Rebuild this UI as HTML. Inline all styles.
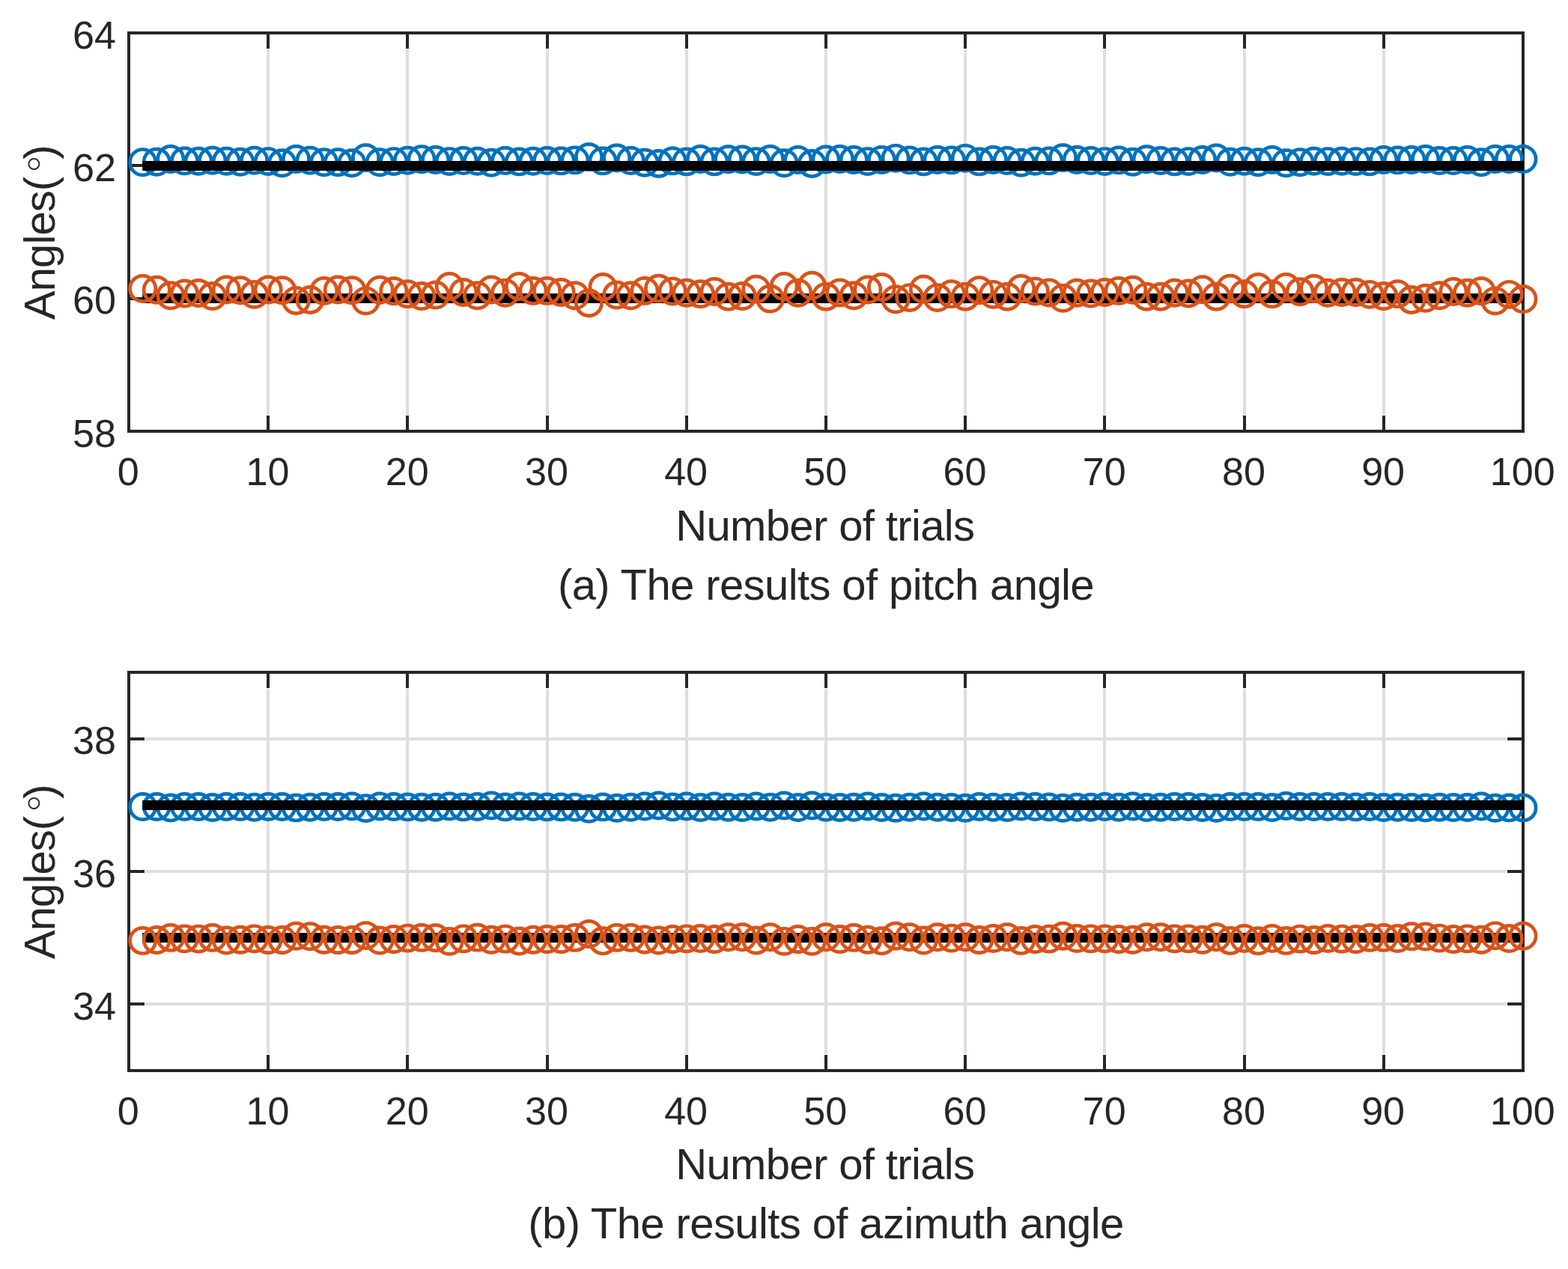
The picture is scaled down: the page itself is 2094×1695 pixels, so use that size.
<!DOCTYPE html>
<html lang="en"><head><meta charset="utf-8"><title>Angle estimation results</title>
<style>
html,body{margin:0;padding:0;background:#fff}
body{width:2094px;height:1695px;overflow:hidden}
svg{display:block}
text{font-family:"Liberation Sans",Arial,Helvetica,sans-serif;fill:#262626}
.t{font-size:52.08px}
.l{font-size:58px}
.xl{letter-spacing:-0.63px}
.cp{letter-spacing:-0.6px}
.yl{letter-spacing:-0.9px}
.dg{stroke:#fff;stroke-width:1.3px}
.g{stroke:#dedede;stroke-width:4;fill:none}
.a{stroke:#262626;stroke-width:4;fill:none;stroke-linecap:square}
.w{stroke:#fff;stroke-width:4;fill:none;stroke-linecap:square}
.k{stroke:#000;stroke-width:13;fill:none}
.b circle{stroke:#0072bd;stroke-width:4.7;fill:none}
.o circle{stroke:#d95319;stroke-width:4.7;fill:none}
</style></head>
<body>
<svg width="2094" height="1695" viewBox="0 0 2094 1695">
<rect width="2094" height="1695" fill="#fff"/>
<g>
<path class="g" d="M358 44V576M544 44V576M731 44V576M917 44V576M1103 44V576M1289 44V576M1475 44V576M1662 44V576M1848 44V576M172 399H2034M172 221H2034"/>
<path class="w" d="M358 576v-20M358 44v20M544 576v-20M544 44v20M731 576v-20M731 44v20M917 576v-20M917 44v20M1103 576v-20M1103 44v20M1289 576v-20M1289 44v20M1475 576v-20M1475 44v20M1662 576v-20M1662 44v20M1848 576v-20M1848 44v20M172 399h20M2034 399h-20M172 221h20M2034 221h-20"/>
<path class="a" d="M358 576v-19M358 44v19M544 576v-19M544 44v19M731 576v-19M731 44v19M917 576v-19M917 44v19M1103 576v-19M1103 44v19M1289 576v-19M1289 44v19M1475 576v-19M1475 44v19M1662 576v-19M1662 44v19M1848 576v-19M1848 44v19M172 399h19M2034 399h-19M172 221h19M2034 221h-19"/>
<rect class="a" x="172" y="44" width="1862" height="532"/>
<g class="b"><circle cx="190.62" cy="216.73" r="17.1"/><circle cx="209.24" cy="216.3" r="17.1"/><circle cx="227.86" cy="212.48" r="17.1"/><circle cx="246.48" cy="214.89" r="17.1"/><circle cx="265.1" cy="215.31" r="17.1"/><circle cx="283.72" cy="214.18" r="17.1"/><circle cx="302.34" cy="215.31" r="17.1"/><circle cx="320.96" cy="216.3" r="17.1"/><circle cx="339.58" cy="214.18" r="17.1"/><circle cx="358.2" cy="215.59" r="17.1"/><circle cx="376.82" cy="217.72" r="17.1"/><circle cx="395.44" cy="212.48" r="17.1"/><circle cx="414.06" cy="214.18" r="17.1"/><circle cx="432.68" cy="216.73" r="17.1"/><circle cx="451.3" cy="216.73" r="17.1"/><circle cx="469.92" cy="217.72" r="17.1"/><circle cx="488.54" cy="210.64" r="17.1"/><circle cx="507.16" cy="216.73" r="17.1"/><circle cx="525.78" cy="215.59" r="17.1"/><circle cx="544.4" cy="214.18" r="17.1"/><circle cx="563.02" cy="212.76" r="17.1"/><circle cx="581.64" cy="213.47" r="17.1"/><circle cx="600.26" cy="215.59" r="17.1"/><circle cx="618.88" cy="214.46" r="17.1"/><circle cx="637.5" cy="215.31" r="17.1"/><circle cx="656.12" cy="217.29" r="17.1"/><circle cx="674.74" cy="214.46" r="17.1"/><circle cx="693.36" cy="215.88" r="17.1"/><circle cx="711.98" cy="215.31" r="17.1"/><circle cx="730.6" cy="214.46" r="17.1"/><circle cx="749.22" cy="214.89" r="17.1"/><circle cx="767.84" cy="213.9" r="17.1"/><circle cx="786.46" cy="209.65" r="17.1"/><circle cx="805.08" cy="214.89" r="17.1"/><circle cx="823.7" cy="211.06" r="17.1"/><circle cx="842.32" cy="214.46" r="17.1"/><circle cx="860.94" cy="217.29" r="17.1"/><circle cx="879.56" cy="218.43" r="17.1"/><circle cx="898.18" cy="214.89" r="17.1"/><circle cx="916.8" cy="215.88" r="17.1"/><circle cx="935.42" cy="212.48" r="17.1"/><circle cx="954.04" cy="215.88" r="17.1"/><circle cx="972.66" cy="212.76" r="17.1"/><circle cx="991.28" cy="213.05" r="17.1"/><circle cx="1009.9" cy="215.59" r="17.1"/><circle cx="1028.52" cy="212.48" r="17.1"/><circle cx="1047.14" cy="217.72" r="17.1"/><circle cx="1065.76" cy="213.47" r="17.1"/><circle cx="1084.38" cy="218.43" r="17.1"/><circle cx="1103" cy="213.05" r="17.1"/><circle cx="1121.62" cy="212.48" r="17.1"/><circle cx="1140.24" cy="213.47" r="17.1"/><circle cx="1158.86" cy="215.59" r="17.1"/><circle cx="1177.48" cy="213.47" r="17.1"/><circle cx="1196.1" cy="211.35" r="17.1"/><circle cx="1214.72" cy="213.9" r="17.1"/><circle cx="1233.34" cy="215.88" r="17.1"/><circle cx="1251.96" cy="213.47" r="17.1"/><circle cx="1270.58" cy="213.9" r="17.1"/><circle cx="1289.2" cy="211.35" r="17.1"/><circle cx="1307.82" cy="215.88" r="17.1"/><circle cx="1326.44" cy="213.47" r="17.1"/><circle cx="1345.06" cy="214.46" r="17.1"/><circle cx="1363.68" cy="217.29" r="17.1"/><circle cx="1382.3" cy="215.31" r="17.1"/><circle cx="1400.92" cy="214.89" r="17.1"/><circle cx="1419.54" cy="210.64" r="17.1"/><circle cx="1438.16" cy="213.47" r="17.1"/><circle cx="1456.78" cy="214.46" r="17.1"/><circle cx="1475.4" cy="215.59" r="17.1"/><circle cx="1494.02" cy="213.9" r="17.1"/><circle cx="1512.64" cy="216.3" r="17.1"/><circle cx="1531.26" cy="212.76" r="17.1"/><circle cx="1549.88" cy="214.46" r="17.1"/><circle cx="1568.5" cy="215.88" r="17.1"/><circle cx="1587.12" cy="215.59" r="17.1"/><circle cx="1605.74" cy="213.47" r="17.1"/><circle cx="1624.36" cy="211.06" r="17.1"/><circle cx="1642.98" cy="216.3" r="17.1"/><circle cx="1661.6" cy="215.31" r="17.1"/><circle cx="1680.22" cy="216.73" r="17.1"/><circle cx="1698.84" cy="213.47" r="17.1"/><circle cx="1717.46" cy="217.72" r="17.1"/><circle cx="1736.08" cy="216.73" r="17.1"/><circle cx="1754.7" cy="215.31" r="17.1"/><circle cx="1773.32" cy="215.59" r="17.1"/><circle cx="1791.94" cy="215.31" r="17.1"/><circle cx="1810.56" cy="215.59" r="17.1"/><circle cx="1829.18" cy="215.88" r="17.1"/><circle cx="1847.8" cy="213.47" r="17.1"/><circle cx="1866.42" cy="213.9" r="17.1"/><circle cx="1885.04" cy="213.47" r="17.1"/><circle cx="1903.66" cy="212.48" r="17.1"/><circle cx="1922.28" cy="214.46" r="17.1"/><circle cx="1940.9" cy="214.46" r="17.1"/><circle cx="1959.52" cy="213.47" r="17.1"/><circle cx="1978.14" cy="216.73" r="17.1"/><circle cx="1996.76" cy="212.48" r="17.1"/><circle cx="2015.38" cy="212.48" r="17.1"/><circle cx="2034" cy="212.48" r="17.1"/></g>
<path class="k" d="M190.22 221.5H2035.2"/>
<path class="k" d="M190.22 398.5H2035.2"/>
<g class="o"><circle cx="190.62" cy="385.57" r="17.1"/><circle cx="209.24" cy="387.27" r="17.1"/><circle cx="227.86" cy="394.77" r="17.1"/><circle cx="246.48" cy="391.94" r="17.1"/><circle cx="265.1" cy="391.52" r="17.1"/><circle cx="283.72" cy="395.48" r="17.1"/><circle cx="302.34" cy="386.98" r="17.1"/><circle cx="320.96" cy="387.69" r="17.1"/><circle cx="339.58" cy="393.36" r="17.1"/><circle cx="358.2" cy="386.98" r="17.1"/><circle cx="376.82" cy="387.69" r="17.1"/><circle cx="395.44" cy="401.43" r="17.1"/><circle cx="414.06" cy="400.44" r="17.1"/><circle cx="432.68" cy="388.4" r="17.1"/><circle cx="451.3" cy="386.98" r="17.1"/><circle cx="469.92" cy="387.69" r="17.1"/><circle cx="488.54" cy="401.86" r="17.1"/><circle cx="507.16" cy="387.27" r="17.1"/><circle cx="525.78" cy="388.68" r="17.1"/><circle cx="544.4" cy="392.65" r="17.1"/><circle cx="563.02" cy="395.48" r="17.1"/><circle cx="581.64" cy="394.07" r="17.1"/><circle cx="600.26" cy="382.45" r="17.1"/><circle cx="618.88" cy="390.52" r="17.1"/><circle cx="637.5" cy="394.77" r="17.1"/><circle cx="656.12" cy="386.98" r="17.1"/><circle cx="674.74" cy="391.23" r="17.1"/><circle cx="693.36" cy="382.45" r="17.1"/><circle cx="711.98" cy="388.4" r="17.1"/><circle cx="730.6" cy="388.4" r="17.1"/><circle cx="749.22" cy="390.52" r="17.1"/><circle cx="767.84" cy="394.77" r="17.1"/><circle cx="786.46" cy="404.69" r="17.1"/><circle cx="805.08" cy="383.44" r="17.1"/><circle cx="823.7" cy="394.07" r="17.1"/><circle cx="842.32" cy="394.77" r="17.1"/><circle cx="860.94" cy="388.4" r="17.1"/><circle cx="879.56" cy="385.28" r="17.1"/><circle cx="898.18" cy="389.11" r="17.1"/><circle cx="916.8" cy="391.23" r="17.1"/><circle cx="935.42" cy="392.65" r="17.1"/><circle cx="954.04" cy="389.53" r="17.1"/><circle cx="972.66" cy="396.19" r="17.1"/><circle cx="991.28" cy="395.48" r="17.1"/><circle cx="1009.9" cy="386.27" r="17.1"/><circle cx="1028.52" cy="399.02" r="17.1"/><circle cx="1047.14" cy="382.45" r="17.1"/><circle cx="1065.76" cy="391.23" r="17.1"/><circle cx="1084.38" cy="381.32" r="17.1"/><circle cx="1103" cy="396.19" r="17.1"/><circle cx="1121.62" cy="390.95" r="17.1"/><circle cx="1140.24" cy="394.77" r="17.1"/><circle cx="1158.86" cy="386.98" r="17.1"/><circle cx="1177.48" cy="383.44" r="17.1"/><circle cx="1196.1" cy="399.73" r="17.1"/><circle cx="1214.72" cy="397.61" r="17.1"/><circle cx="1233.34" cy="386.27" r="17.1"/><circle cx="1251.96" cy="397.61" r="17.1"/><circle cx="1270.58" cy="392.65" r="17.1"/><circle cx="1289.2" cy="396.19" r="17.1"/><circle cx="1307.82" cy="387.69" r="17.1"/><circle cx="1326.44" cy="393.36" r="17.1"/><circle cx="1345.06" cy="396.19" r="17.1"/><circle cx="1363.68" cy="385.57" r="17.1"/><circle cx="1382.3" cy="389.11" r="17.1"/><circle cx="1400.92" cy="390.95" r="17.1"/><circle cx="1419.54" cy="398.31" r="17.1"/><circle cx="1438.16" cy="391.23" r="17.1"/><circle cx="1456.78" cy="391.94" r="17.1"/><circle cx="1475.4" cy="390.52" r="17.1"/><circle cx="1494.02" cy="388.4" r="17.1"/><circle cx="1512.64" cy="387.27" r="17.1"/><circle cx="1531.26" cy="396.19" r="17.1"/><circle cx="1549.88" cy="396.19" r="17.1"/><circle cx="1568.5" cy="391.23" r="17.1"/><circle cx="1587.12" cy="391.94" r="17.1"/><circle cx="1605.74" cy="386.7" r="17.1"/><circle cx="1624.36" cy="396.19" r="17.1"/><circle cx="1642.98" cy="385.28" r="17.1"/><circle cx="1661.6" cy="392.65" r="17.1"/><circle cx="1680.22" cy="383.44" r="17.1"/><circle cx="1698.84" cy="392.65" r="17.1"/><circle cx="1717.46" cy="383.44" r="17.1"/><circle cx="1736.08" cy="389.82" r="17.1"/><circle cx="1754.7" cy="385.57" r="17.1"/><circle cx="1773.32" cy="391.23" r="17.1"/><circle cx="1791.94" cy="390.52" r="17.1"/><circle cx="1810.56" cy="390.52" r="17.1"/><circle cx="1829.18" cy="393.36" r="17.1"/><circle cx="1847.8" cy="395.48" r="17.1"/><circle cx="1866.42" cy="392.65" r="17.1"/><circle cx="1885.04" cy="400.44" r="17.1"/><circle cx="1903.66" cy="398.31" r="17.1"/><circle cx="1922.28" cy="394.77" r="17.1"/><circle cx="1940.9" cy="389.53" r="17.1"/><circle cx="1959.52" cy="391.23" r="17.1"/><circle cx="1978.14" cy="388.68" r="17.1"/><circle cx="1996.76" cy="401.86" r="17.1"/><circle cx="2015.38" cy="393.36" r="17.1"/><circle cx="2034" cy="399.45" r="17.1"/></g>
<text class="t" x="171.3" y="647.6" text-anchor="middle">0</text><text class="t" x="357.5" y="647.6" text-anchor="middle">10</text><text class="t" x="543.7" y="647.6" text-anchor="middle">20</text><text class="t" x="729.9" y="647.6" text-anchor="middle">30</text><text class="t" x="916.1" y="647.6" text-anchor="middle">40</text><text class="t" x="1102.3" y="647.6" text-anchor="middle">50</text><text class="t" x="1288.5" y="647.6" text-anchor="middle">60</text><text class="t" x="1474.7" y="647.6" text-anchor="middle">70</text><text class="t" x="1660.9" y="647.6" text-anchor="middle">80</text><text class="t" x="1847.1" y="647.6" text-anchor="middle">90</text><text class="t" x="2033.3" y="647.6" text-anchor="middle">100</text>
<text class="t" x="155" y="596.8" text-anchor="end">58</text><text class="t" x="155" y="419.47" text-anchor="end">60</text><text class="t" x="155" y="242.13" text-anchor="end">62</text><text class="t" x="155" y="64.8" text-anchor="end">64</text>
<text class="l xl" x="1101.8" y="722" text-anchor="middle">Number of trials</text>
<text class="l cp" x="1103" y="800.84" text-anchor="middle">(a) The results of pitch angle</text>
<text class="l yl" transform="translate(72.7 427.1) rotate(-90)"><tspan x="0" y="0">Angles(</tspan><tspan class="dg" x="195.5" y="8.4" font-size="62.5">°</tspan><tspan x="214.4" y="0">)</tspan></text>
</g>
<g>
<path class="g" d="M358 898V1430M544 898V1430M731 898V1430M917 898V1430M1103 898V1430M1289 898V1430M1475 898V1430M1662 898V1430M1848 898V1430M172 1341H2034M172 1164H2034M172 987H2034"/>
<path class="w" d="M358 1430v-20M358 898v20M544 1430v-20M544 898v20M731 1430v-20M731 898v20M917 1430v-20M917 898v20M1103 1430v-20M1103 898v20M1289 1430v-20M1289 898v20M1475 1430v-20M1475 898v20M1662 1430v-20M1662 898v20M1848 1430v-20M1848 898v20M172 1341h20M2034 1341h-20M172 1164h20M2034 1164h-20M172 987h20M2034 987h-20"/>
<path class="a" d="M358 1430v-19M358 898v19M544 1430v-19M544 898v19M731 1430v-19M731 898v19M917 1430v-19M917 898v19M1103 1430v-19M1103 898v19M1289 1430v-19M1289 898v19M1475 1430v-19M1475 898v19M1662 1430v-19M1662 898v19M1848 1430v-19M1848 898v19M172 1341h19M2034 1341h-19M172 1164h19M2034 1164h-19M172 987h19M2034 987h-19"/>
<rect class="a" x="172" y="898" width="1862" height="532"/>
<g class="b"><circle cx="190.62" cy="1077.48" r="17.1"/><circle cx="209.24" cy="1077.48" r="17.1"/><circle cx="227.86" cy="1078.9" r="17.1"/><circle cx="246.48" cy="1077.48" r="17.1"/><circle cx="265.1" cy="1077.48" r="17.1"/><circle cx="283.72" cy="1078.47" r="17.1"/><circle cx="302.34" cy="1077.48" r="17.1"/><circle cx="320.96" cy="1077.48" r="17.1"/><circle cx="339.58" cy="1078.19" r="17.1"/><circle cx="358.2" cy="1077.48" r="17.1"/><circle cx="376.82" cy="1077.48" r="17.1"/><circle cx="395.44" cy="1078.9" r="17.1"/><circle cx="414.06" cy="1078.19" r="17.1"/><circle cx="432.68" cy="1077.48" r="17.1"/><circle cx="451.3" cy="1077.48" r="17.1"/><circle cx="469.92" cy="1077.06" r="17.1"/><circle cx="488.54" cy="1079.61" r="17.1"/><circle cx="507.16" cy="1077.06" r="17.1"/><circle cx="525.78" cy="1077.48" r="17.1"/><circle cx="544.4" cy="1077.91" r="17.1"/><circle cx="563.02" cy="1078.19" r="17.1"/><circle cx="581.64" cy="1078.19" r="17.1"/><circle cx="600.26" cy="1077.06" r="17.1"/><circle cx="618.88" cy="1077.91" r="17.1"/><circle cx="637.5" cy="1077.48" r="17.1"/><circle cx="656.12" cy="1076.07" r="17.1"/><circle cx="674.74" cy="1077.91" r="17.1"/><circle cx="693.36" cy="1077.06" r="17.1"/><circle cx="711.98" cy="1077.48" r="17.1"/><circle cx="730.6" cy="1077.91" r="17.1"/><circle cx="749.22" cy="1077.91" r="17.1"/><circle cx="767.84" cy="1078.19" r="17.1"/><circle cx="786.46" cy="1080.31" r="17.1"/><circle cx="805.08" cy="1077.91" r="17.1"/><circle cx="823.7" cy="1079.32" r="17.1"/><circle cx="842.32" cy="1078.19" r="17.1"/><circle cx="860.94" cy="1077.06" r="17.1"/><circle cx="879.56" cy="1076.07" r="17.1"/><circle cx="898.18" cy="1077.91" r="17.1"/><circle cx="916.8" cy="1077.06" r="17.1"/><circle cx="935.42" cy="1078.47" r="17.1"/><circle cx="954.04" cy="1077.06" r="17.1"/><circle cx="972.66" cy="1078.19" r="17.1"/><circle cx="991.28" cy="1078.47" r="17.1"/><circle cx="1009.9" cy="1077.06" r="17.1"/><circle cx="1028.52" cy="1078.19" r="17.1"/><circle cx="1047.14" cy="1076.07" r="17.1"/><circle cx="1065.76" cy="1078.47" r="17.1"/><circle cx="1084.38" cy="1076.07" r="17.1"/><circle cx="1103" cy="1078.19" r="17.1"/><circle cx="1121.62" cy="1078.47" r="17.1"/><circle cx="1140.24" cy="1078.19" r="17.1"/><circle cx="1158.86" cy="1077.06" r="17.1"/><circle cx="1177.48" cy="1078.47" r="17.1"/><circle cx="1196.1" cy="1079.32" r="17.1"/><circle cx="1214.72" cy="1078.19" r="17.1"/><circle cx="1233.34" cy="1077.06" r="17.1"/><circle cx="1251.96" cy="1078.19" r="17.1"/><circle cx="1270.58" cy="1078.47" r="17.1"/><circle cx="1289.2" cy="1079.32" r="17.1"/><circle cx="1307.82" cy="1077.48" r="17.1"/><circle cx="1326.44" cy="1078.19" r="17.1"/><circle cx="1345.06" cy="1078.47" r="17.1"/><circle cx="1363.68" cy="1077.06" r="17.1"/><circle cx="1382.3" cy="1077.48" r="17.1"/><circle cx="1400.92" cy="1077.91" r="17.1"/><circle cx="1419.54" cy="1079.32" r="17.1"/><circle cx="1438.16" cy="1078.19" r="17.1"/><circle cx="1456.78" cy="1078.19" r="17.1"/><circle cx="1475.4" cy="1077.48" r="17.1"/><circle cx="1494.02" cy="1078.19" r="17.1"/><circle cx="1512.64" cy="1077.06" r="17.1"/><circle cx="1531.26" cy="1078.47" r="17.1"/><circle cx="1549.88" cy="1078.19" r="17.1"/><circle cx="1568.5" cy="1077.48" r="17.1"/><circle cx="1587.12" cy="1077.48" r="17.1"/><circle cx="1605.74" cy="1078.47" r="17.1"/><circle cx="1624.36" cy="1079.32" r="17.1"/><circle cx="1642.98" cy="1077.48" r="17.1"/><circle cx="1661.6" cy="1077.48" r="17.1"/><circle cx="1680.22" cy="1077.48" r="17.1"/><circle cx="1698.84" cy="1078.47" r="17.1"/><circle cx="1717.46" cy="1076.49" r="17.1"/><circle cx="1736.08" cy="1077.48" r="17.1"/><circle cx="1754.7" cy="1077.48" r="17.1"/><circle cx="1773.32" cy="1077.48" r="17.1"/><circle cx="1791.94" cy="1077.48" r="17.1"/><circle cx="1810.56" cy="1077.91" r="17.1"/><circle cx="1829.18" cy="1077.48" r="17.1"/><circle cx="1847.8" cy="1078.47" r="17.1"/><circle cx="1866.42" cy="1078.19" r="17.1"/><circle cx="1885.04" cy="1078.47" r="17.1"/><circle cx="1903.66" cy="1078.9" r="17.1"/><circle cx="1922.28" cy="1078.19" r="17.1"/><circle cx="1940.9" cy="1078.47" r="17.1"/><circle cx="1959.52" cy="1078.47" r="17.1"/><circle cx="1978.14" cy="1077.06" r="17.1"/><circle cx="1996.76" cy="1079.32" r="17.1"/><circle cx="2015.38" cy="1078.9" r="17.1"/><circle cx="2034" cy="1078.9" r="17.1"/></g>
<path class="k" d="M190.22 1075.5H2035.2"/>
<path class="k" d="M190.22 1252.5H2035.2"/>
<g class="o"><circle cx="190.62" cy="1256.38" r="17.1"/><circle cx="209.24" cy="1255.53" r="17.1"/><circle cx="227.86" cy="1252.41" r="17.1"/><circle cx="246.48" cy="1253.83" r="17.1"/><circle cx="265.1" cy="1254.11" r="17.1"/><circle cx="283.72" cy="1252.41" r="17.1"/><circle cx="302.34" cy="1255.95" r="17.1"/><circle cx="320.96" cy="1255.24" r="17.1"/><circle cx="339.58" cy="1253.83" r="17.1"/><circle cx="358.2" cy="1255.53" r="17.1"/><circle cx="376.82" cy="1255.53" r="17.1"/><circle cx="395.44" cy="1250.29" r="17.1"/><circle cx="414.06" cy="1250.71" r="17.1"/><circle cx="432.68" cy="1255.24" r="17.1"/><circle cx="451.3" cy="1255.53" r="17.1"/><circle cx="469.92" cy="1255.53" r="17.1"/><circle cx="488.54" cy="1249.58" r="17.1"/><circle cx="507.16" cy="1255.95" r="17.1"/><circle cx="525.78" cy="1254.54" r="17.1"/><circle cx="544.4" cy="1253.12" r="17.1"/><circle cx="563.02" cy="1252.41" r="17.1"/><circle cx="581.64" cy="1252.69" r="17.1"/><circle cx="600.26" cy="1257.37" r="17.1"/><circle cx="618.88" cy="1253.83" r="17.1"/><circle cx="637.5" cy="1252.13" r="17.1"/><circle cx="656.12" cy="1255.24" r="17.1"/><circle cx="674.74" cy="1254.11" r="17.1"/><circle cx="693.36" cy="1256.94" r="17.1"/><circle cx="711.98" cy="1255.24" r="17.1"/><circle cx="730.6" cy="1254.54" r="17.1"/><circle cx="749.22" cy="1254.54" r="17.1"/><circle cx="767.84" cy="1252.41" r="17.1"/><circle cx="786.46" cy="1247.45" r="17.1"/><circle cx="805.08" cy="1256.66" r="17.1"/><circle cx="823.7" cy="1252.41" r="17.1"/><circle cx="842.32" cy="1252.41" r="17.1"/><circle cx="860.94" cy="1254.96" r="17.1"/><circle cx="879.56" cy="1255.95" r="17.1"/><circle cx="898.18" cy="1254.54" r="17.1"/><circle cx="916.8" cy="1253.83" r="17.1"/><circle cx="935.42" cy="1253.54" r="17.1"/><circle cx="954.04" cy="1254.54" r="17.1"/><circle cx="972.66" cy="1251.7" r="17.1"/><circle cx="991.28" cy="1251.7" r="17.1"/><circle cx="1009.9" cy="1255.95" r="17.1"/><circle cx="1028.52" cy="1251.7" r="17.1"/><circle cx="1047.14" cy="1257.37" r="17.1"/><circle cx="1065.76" cy="1254.54" r="17.1"/><circle cx="1084.38" cy="1257.37" r="17.1"/><circle cx="1103" cy="1251.7" r="17.1"/><circle cx="1121.62" cy="1254.54" r="17.1"/><circle cx="1140.24" cy="1252.41" r="17.1"/><circle cx="1158.86" cy="1255.24" r="17.1"/><circle cx="1177.48" cy="1256.66" r="17.1"/><circle cx="1196.1" cy="1250.29" r="17.1"/><circle cx="1214.72" cy="1251.7" r="17.1"/><circle cx="1233.34" cy="1255.95" r="17.1"/><circle cx="1251.96" cy="1251.7" r="17.1"/><circle cx="1270.58" cy="1253.12" r="17.1"/><circle cx="1289.2" cy="1251.7" r="17.1"/><circle cx="1307.82" cy="1255.53" r="17.1"/><circle cx="1326.44" cy="1253.54" r="17.1"/><circle cx="1345.06" cy="1251.7" r="17.1"/><circle cx="1363.68" cy="1256.38" r="17.1"/><circle cx="1382.3" cy="1254.54" r="17.1"/><circle cx="1400.92" cy="1254.11" r="17.1"/><circle cx="1419.54" cy="1250.29" r="17.1"/><circle cx="1438.16" cy="1253.54" r="17.1"/><circle cx="1456.78" cy="1253.83" r="17.1"/><circle cx="1475.4" cy="1253.83" r="17.1"/><circle cx="1494.02" cy="1254.54" r="17.1"/><circle cx="1512.64" cy="1255.24" r="17.1"/><circle cx="1531.26" cy="1251.7" r="17.1"/><circle cx="1549.88" cy="1251.7" r="17.1"/><circle cx="1568.5" cy="1253.83" r="17.1"/><circle cx="1587.12" cy="1253.83" r="17.1"/><circle cx="1605.74" cy="1255.24" r="17.1"/><circle cx="1624.36" cy="1251.7" r="17.1"/><circle cx="1642.98" cy="1256.38" r="17.1"/><circle cx="1661.6" cy="1253.54" r="17.1"/><circle cx="1680.22" cy="1256.66" r="17.1"/><circle cx="1698.84" cy="1253.54" r="17.1"/><circle cx="1717.46" cy="1256.38" r="17.1"/><circle cx="1736.08" cy="1254.11" r="17.1"/><circle cx="1754.7" cy="1255.53" r="17.1"/><circle cx="1773.32" cy="1253.54" r="17.1"/><circle cx="1791.94" cy="1254.11" r="17.1"/><circle cx="1810.56" cy="1254.54" r="17.1"/><circle cx="1829.18" cy="1252.41" r="17.1"/><circle cx="1847.8" cy="1252.41" r="17.1"/><circle cx="1866.42" cy="1253.54" r="17.1"/><circle cx="1885.04" cy="1250.71" r="17.1"/><circle cx="1903.66" cy="1250.99" r="17.1"/><circle cx="1922.28" cy="1253.12" r="17.1"/><circle cx="1940.9" cy="1254.54" r="17.1"/><circle cx="1959.52" cy="1253.83" r="17.1"/><circle cx="1978.14" cy="1255.24" r="17.1"/><circle cx="1996.76" cy="1249.86" r="17.1"/><circle cx="2015.38" cy="1253.54" r="17.1"/><circle cx="2034" cy="1250.29" r="17.1"/></g>
<text class="t" x="171.3" y="1501.6" text-anchor="middle">0</text><text class="t" x="357.5" y="1501.6" text-anchor="middle">10</text><text class="t" x="543.7" y="1501.6" text-anchor="middle">20</text><text class="t" x="729.9" y="1501.6" text-anchor="middle">30</text><text class="t" x="916.1" y="1501.6" text-anchor="middle">40</text><text class="t" x="1102.3" y="1501.6" text-anchor="middle">50</text><text class="t" x="1288.5" y="1501.6" text-anchor="middle">60</text><text class="t" x="1474.7" y="1501.6" text-anchor="middle">70</text><text class="t" x="1660.9" y="1501.6" text-anchor="middle">80</text><text class="t" x="1847.1" y="1501.6" text-anchor="middle">90</text><text class="t" x="2033.3" y="1501.6" text-anchor="middle">100</text>
<text class="t" x="155" y="1362.13" text-anchor="end">34</text><text class="t" x="155" y="1184.8" text-anchor="end">36</text><text class="t" x="155" y="1007.47" text-anchor="end">38</text>
<text class="l xl" x="1101.8" y="1574.9" text-anchor="middle">Number of trials</text>
<text class="l cp" x="1103" y="1653.74" text-anchor="middle">(b) The results of azimuth angle</text>
<text class="l yl" transform="translate(72.7 1281.1) rotate(-90)"><tspan x="0" y="0">Angles(</tspan><tspan class="dg" x="195.5" y="8.4" font-size="62.5">°</tspan><tspan x="214.4" y="0">)</tspan></text>
</g>
</svg>
</body></html>
